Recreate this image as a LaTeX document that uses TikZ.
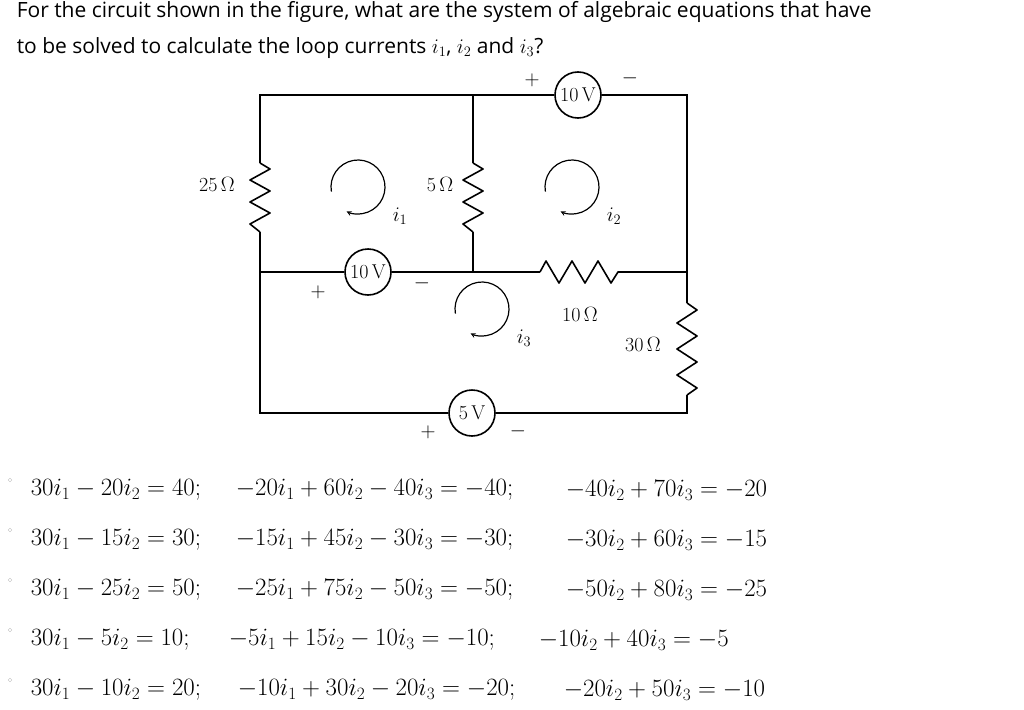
\documentclass[tikz,border=0pt]{standalone}
\usepackage{fontspec}
\usepackage{amsmath}
\newfontfamily\hdr{Open Sans}
\begin{document}
\begin{tikzpicture}[x=1pt,y=-1pt,line width=1.6pt,
  src/.style={draw,circle,minimum size=46pt,inner sep=0pt,font=\fontsize{20}{22}\selectfont,fill=white},
  lbl/.style={font=\fontsize{20}{22}\selectfont},
  eq/.style={anchor=west,font=\fontsize{26.5}{30}\selectfont,inner sep=0pt},
  bulletmk/.style={draw=gray!50,line width=0.4pt,circle,inner sep=1.3pt}]
\useasboundingbox (0,0) rectangle (1024,709);
\node[anchor=west,font=\hdr\fontsize{21}{24}\selectfont,inner sep=0pt] (h1) at (16,12) {For the circuit shown in the figure, what are the system of algebraic equations that have};
\node[anchor=west,font=\hdr\fontsize{21}{24}\selectfont,inner sep=0pt] (h2) at (16,48) {to be solved to calculate the loop currents $i_1$, $i_2$ and $i_3$?};
% wires
\coordinate (TL) at (260,95); \coordinate (TM) at (473,95); \coordinate (TR) at (687,95);
\coordinate (ML) at (260,272); \coordinate (MM) at (473,272); \coordinate (MR) at (687,272);
\coordinate (BL) at (260,413); \coordinate (BR) at (687,413);
\node[src] (v1) at (578,95) {10\,V};
\node[src] (v2) at (368,272) {10\,V};
\node[src] (v3) at (472,413) {5\,V};
\draw (v1) -- (TM) -- (TL) -- (260,163);
\draw (260,232) -- (ML) -- (BL) -- (v3);
\draw (v1) -- (TR) -- (MR) -- (687,303);
\draw (687,395) -- (BR) -- (v3);
\draw (ML) -- (v2) -- (MM) -- (540,272);
\draw (625,272) -- (MR);
\draw (TM) -- (473,163); \draw (473,232) -- (MM);
% resistors
\draw[line join=round] (260,163) -- (270,169) -- (250,180) -- (270,191) -- (250,202) -- (270,213) -- (250,224) -- (260,232);
\draw[line join=round] (473,163) -- (483,169) -- (463,180) -- (483,191) -- (463,202) -- (483,213) -- (463,224) -- (473,232);
\draw[line join=round] (687,303) -- (697,310) -- (677,323) -- (697,336) -- (677,349) -- (697,362) -- (677,375) -- (697,388) -- (687,395);
\draw[line join=round] (540,272) -- (546,261) -- (559,283) -- (572,261) -- (585,283) -- (598,261) -- (611,283) -- (618,272) -- (625,272);
% labels
\node[lbl] (r1) at (217,185) {25\,$\Omega$};
\node[lbl] (r2) at (440,185) {5\,$\Omega$};
\node[lbl] (r3) at (580,315) {10\,$\Omega$};
\node[lbl] (r4) at (643,345) {30\,$\Omega$};
\node[lbl] (p1) at (532,80) {$+$}; \node[lbl] (m1) at (630,78) {$-$};
\node[lbl] (p2) at (318,292) {$+$}; \node[lbl] (m2) at (422,283) {$-$};
\node[lbl] (p3) at (428,432) {$+$}; \node[lbl] (m3) at (518,431) {$-$};
% loop arrows
\foreach \cx/\cy/\n in {358/187/1, 572/187/2, 482/309/3}{
  \draw[line width=1.2pt,->,>=stealth] (\cx,\cy) ++(170:27) arc[start angle=170,end angle=475,radius=27];
  \node[lbl] (c\n) at (\cx+42,\cy+29) {$i_\n$};
}
% equations
\foreach \y/\xa/\xb/\xc/\a/\b/\c in {490/30/235/565/{30i_1-20i_2=40;}/{-20i_1+60i_2-40i_3=-40;}/{-40i_2+70i_3=-20},
  540/30/235/565/{30i_1-15i_2=30;}/{-15i_1+45i_2-30i_3=-30;}/{-30i_2+60i_3=-15},
  590/30/235/565/{30i_1-25i_2=50;}/{-25i_1+75i_2-50i_3=-50;}/{-50i_2+80i_3=-25},
  640/30/228/538/{30i_1-5i_2=10;}/{-5i_1+15i_2-10i_3=-10;}/{-10i_2+40i_3=-5},
  690/30/237/563/{30i_1-10i_2=20;}/{-10i_1+30i_2-20i_3=-20;}/{-20i_2+50i_3=-10}}{
  \node[bulletmk] at (10,\y-10) {};
  \node[eq] at (\xa,\y) {$\a$};
  \node[eq] at (\xb,\y) {$\b$};
  \node[eq] at (\xc,\y) {$\c$};
}
\end{tikzpicture}
\end{document}
